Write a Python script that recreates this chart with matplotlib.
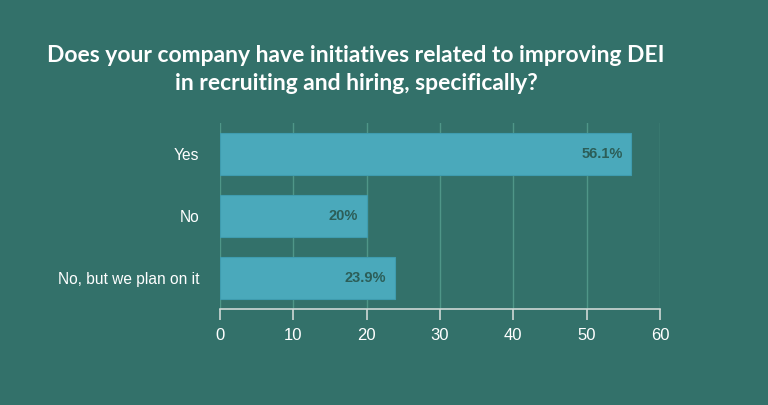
import matplotlib
matplotlib.use("Agg")
import matplotlib.pyplot as plt

categories = ["Yes", "No", "No, but we plan on it"]
values = [56.1, 20, 23.9]
value_labels = ["56.1%", "20%", "23.9%"]
x_ticks = [0, 10, 20, 30, 40, 50, 60]

BG = "#33716a"
BAR = "#4aa9bb"
DARK = "#2c5e58"
GRID = "#4f9688"

plt.rcParams["font.family"] = ["Liberation Sans", "DejaVu Sans"]

fig = plt.figure(figsize=(7.68, 4.05), dpi=100, facecolor=BG)
ax = fig.add_axes([220 / 768, 1 - 309 / 405, 440 / 768, 186 / 405])
ax.set_facecolor(BG)

y = list(range(len(categories)))
ax.barh(y, values, height=0.69, color=BAR, edgecolor="#3f9caf", linewidth=0.8, zorder=3)

for yi, v, lab in zip(y, values, value_labels):
    ax.text(v - 1.2, yi, lab, ha="right", va="center", fontsize=10.5,
            fontweight="bold", color=DARK, zorder=4)

ax.set_xlim(0, 60)
ax.set_ylim(2.5, -0.5)
ax.set_xticks(x_ticks)
ax.set_xticklabels([str(t) for t in x_ticks])
ax.set_yticks(y)
ax.set_yticklabels(categories)

ax.grid(axis="x", color=GRID, linewidth=1, zorder=0)
ax.grid(axis="y", visible=False)

for s in ["top", "right", "left"]:
    ax.spines[s].set_visible(False)
ax.spines["bottom"].set_color("#cfd8d6")
ax.spines["bottom"].set_linewidth(1.2)
ax.spines["bottom"].set_zorder(5)

ax.tick_params(axis="x", colors="#cfd8d6", length=8, width=1.2, pad=6,
               labelsize=12, labelcolor="white")
ax.tick_params(axis="y", length=0, pad=15, labelsize=11.2, labelcolor="white")

title_font = dict(ha="center", va="center", fontsize=16.5, fontweight="bold",
                  color="white", family=["Lato", "DejaVu Sans"])
fig.text(356 / 768, 1 - 55 / 405, "Does your company have initiatives related to improving DEI",
         **title_font)
fig.text(356 / 768, 1 - 84 / 405, "in recruiting and hiring, specifically?", **title_font)

fig.savefig("out.png", dpi=100, facecolor=BG)
